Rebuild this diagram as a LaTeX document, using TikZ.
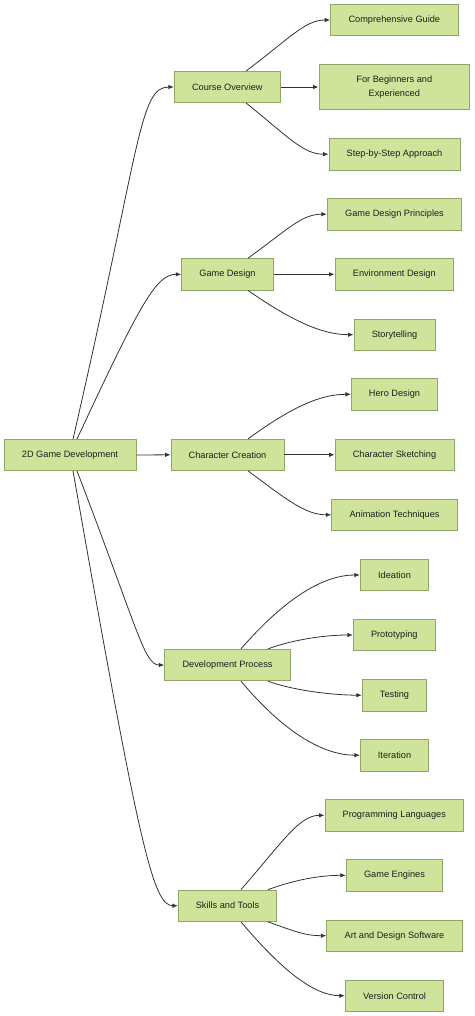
\documentclass[tikz,border=0pt]{standalone}
\usepackage{fontspec}
\setmainfont{Liberation Sans}
\usetikzlibrary{arrows.meta,calc}
\definecolor{boxfill}{HTML}{D0E39B}
\definecolor{boxline}{HTML}{8EA66A}
\definecolor{edgecol}{HTML}{333333}
\begin{document}
\begin{tikzpicture}[x=1pt,y=1pt,
  box/.style={draw=boxline,fill=boxfill,line width=0.9pt,inner sep=0pt,
    font=\fontsize{9.2}{14}\selectfont,text=black!88,align=center},
  link/.style={draw=edgecol,line width=0.8pt,-{Latex[length=5.5pt,width=4.5pt]}}]
\useasboundingbox (0,0) rectangle (474,-1016);
\fill[white] (0,0) rectangle (474,-1016);
% root and level 1
\node[box,minimum width=132pt,minimum height=31pt] (root) at (70,-455) {2D Game Development};
\node[box,minimum width=106pt,minimum height=31.4pt] (co) at (227.3,-87) {Course Overview};
\node[box,minimum width=91.6pt,minimum height=31.3pt] (gd) at (227.5,-274.3) {Game Design};
\node[box,minimum width=113pt,minimum height=31pt] (cc) at (227.5,-454.8) {Character Creation};
\node[box,minimum width=125.6pt,minimum height=31.4pt] (dp) at (227.5,-665) {Development Process};
\node[box,minimum width=98.4pt,minimum height=31.3pt] (st) at (227.5,-905.7) {Skills and Tools};
% level 2
\node[box,minimum width=127.3pt,minimum height=31.4pt] (cg) at (394.3,-20) {Comprehensive Guide};
\node[box,minimum width=150.7pt,minimum height=45.4pt] (fb) at (394.3,-87) {For Beginners and\\Experienced};
\node[box,minimum width=131pt,minimum height=31.7pt] (ss) at (394.5,-154.2) {Step-by-Step Approach};
\node[box,minimum width=134.4pt,minimum height=31.7pt] (gdp) at (394.5,-214.2) {Game Design Principles};
\node[box,minimum width=118.7pt,minimum height=31.3pt] (env) at (394.3,-274.3) {Environment Design};
\node[box,minimum width=81pt,minimum height=31.3pt] (story) at (394.5,-334.7) {Storytelling};
\node[box,minimum width=86.4pt,minimum height=31.3pt] (hero) at (394.5,-394.3) {Hero Design};
\node[box,minimum width=119pt,minimum height=31pt] (sketch) at (394.5,-454.8) {Character Sketching};
\node[box,minimum width=125.6pt,minimum height=31pt] (anim) at (394.5,-514.8) {Animation Techniques};
\node[box,minimum width=68.4pt,minimum height=31.4pt] (idea) at (394.5,-575) {Ideation};
\node[box,minimum width=82pt,minimum height=31.4pt] (proto) at (394.3,-635) {Prototyping};
\node[box,minimum width=64.4pt,minimum height=31.7pt] (test) at (394.5,-695.2) {Testing};
\node[box,minimum width=68.4pt,minimum height=31.7pt] (iter) at (394.5,-755.2) {Iteration};
\node[box,minimum width=138.7pt,minimum height=31.3pt] (pl) at (394.3,-815.3) {Programming Languages};
\node[box,minimum width=96.4pt,minimum height=31.3pt] (ge) at (394.5,-875.3) {Game Engines};
\node[box,minimum width=135.6pt,minimum height=31.3pt] (art) at (394.5,-935.7) {Art and Design Software};
\node[box,minimum width=98.4pt,minimum height=31.3pt] (vc) at (394.5,-995.7) {Version Control};
% root edges
\draw[link] ($(root.north)+(3,0)$) to[out=77,in=180,out distance=300pt,in distance=35pt] (co.west);
\draw[link] ($(root.north)+(7,0)$) to[out=65,in=180,out distance=150pt,in distance=25pt] (gd.west);
\draw[link] (root.east) -- (cc.west);
\draw[link] ($(root.south)+(7,0)$) to[out=-69,in=180,out distance=170pt,in distance=20pt] (dp.west);
\draw[link] ($(root.south)+(3,0)$) to[out=-80,in=180,out distance=380pt,in distance=25pt] (st.west);
% course overview
\draw[link] ($(co.north)+(19,0)$) to[out=37,in=180,out distance=55pt,in distance=25pt] (cg.west);
\draw[link] (co.east) -- (fb.west);
\draw[link] ($(co.south)+(19,0)$) to[out=-39,in=180,out distance=55pt,in distance=25pt] (ss.west);
% game design
\draw[link] ($(gd.north)+(20.5,0)$) to[out=36,in=180,out distance=50pt,in distance=25pt] (gdp.west);
\draw[link] (gd.east) -- (env.west);
\draw[link] ($(gd.south)+(20.5,0)$) to[out=-35,in=180,out distance=55pt,in distance=30pt] (story.west);
% character creation
\draw[link] ($(cc.north)+(20.5,0)$) to[out=36,in=180,out distance=55pt,in distance=30pt] (hero.west);
\draw[link] (cc.east) -- (sketch.west);
\draw[link] ($(cc.south)+(20.5,0)$) to[out=-37,in=180,out distance=50pt,in distance=25pt] (anim.west);
% development process
\draw[link] ($(dp.north)+(13.5,0)$) to[out=49,in=180,out distance=70pt,in distance=35pt] (idea.west);
\draw[link] ($(dp.north)+(40.5,0)$) to[out=20,in=180,out distance=30pt,in distance=25pt] (proto.west);
\draw[link] ($(dp.south)+(40.5,0)$) to[out=-20,in=180,out distance=30pt,in distance=25pt] (test.west);
\draw[link] ($(dp.south)+(13.5,0)$) to[out=-50,in=180,out distance=70pt,in distance=35pt] (iter.west);
% skills and tools
\draw[link] ($(st.north)+(13.5,0)$) to[out=49,in=180,out distance=65pt,in distance=25pt] (pl.west);
\draw[link] ($(st.north)+(40.5,0)$) to[out=20,in=180,out distance=30pt,in distance=25pt] (ge.west);
\draw[link] ($(st.south)+(40.5,0)$) to[out=-20,in=180,out distance=30pt,in distance=20pt] (art.west);
\draw[link] ($(st.south)+(13.5,0)$) to[out=-50,in=180,out distance=65pt,in distance=30pt] (vc.west);
\end{tikzpicture}
\end{document}
